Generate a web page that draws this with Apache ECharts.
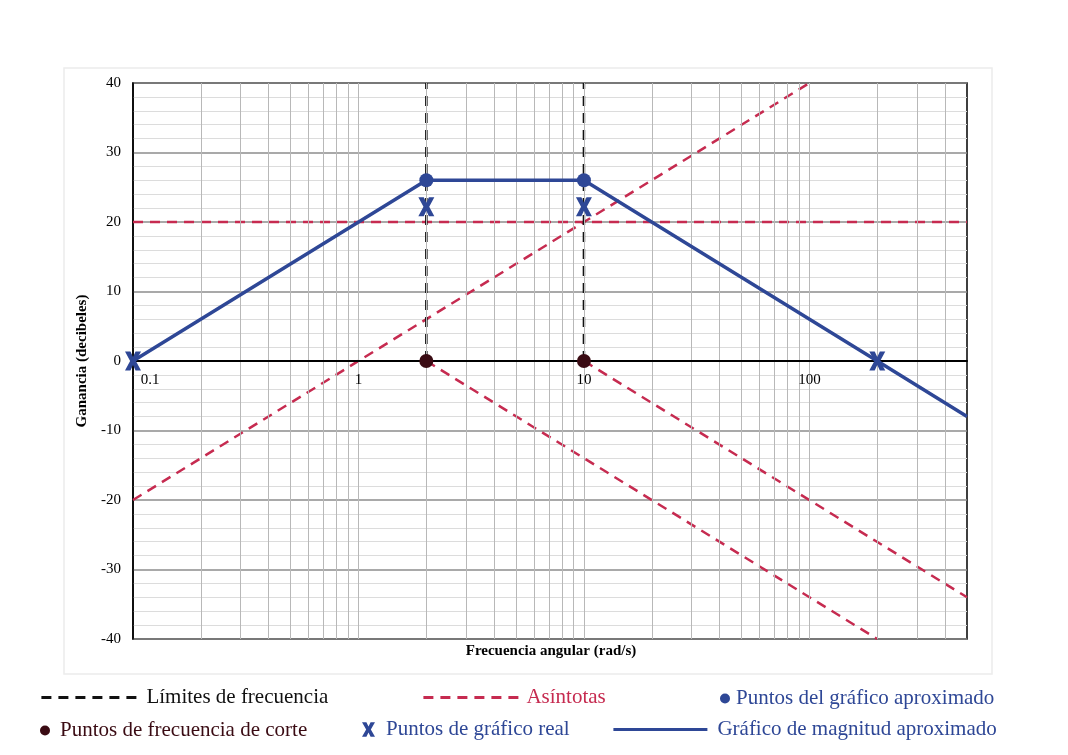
<!DOCTYPE html>
<html>
<head>
<meta charset="utf-8">
<script src="https://cdn.jsdelivr.net/npm/echarts@6/dist/echarts.min.js"></script>
<style>html,body{margin:0;padding:0;background:#fff;}#c{width:1068px;height:755px;}</style>
</head>
<body>
<div id="c"></div>
<script>
// ---- data ----
const yTicks = [-40, -30, -20, -10, 0, 10, 20, 30, 40];
const xDecades = [0.1, 1, 10, 100];
const xGridFreqs = [0.2,0.3,0.4,0.5,0.6,0.7,0.8,0.9,1,2,3,4,5,6,7,8,9,10,20,30,40,50,60,70,80,90,100,200,300,400];
const asymFlat = [[0.1, 20], [500, 20]];
const asymRise = [[0.1, -20], [100, 40]];
const asymFall2 = [[2, 0], [200, -40]];
const asymFall10 = [[10, 0], [500, -34]];
const limit2 = [[2, 0], [2, 40]];
const limit10 = [[10, 0], [10, 40]];
const approxLine = [[0.1, 0], [2, 26], [10, 26], [200, 0], [500, -8]];
const approxPoints = [[2, 26], [10, 26]];
const cutoffPoints = [[2, 0], [10, 0]];
const realPoints = [[0.1, 0], [2, 22.2], [10, 22.2], [200, 0]];

const SERIF = 'Liberation Serif';
const BLUE = '#2E4796';
const RED = '#C62B50';
const MAROON = '#3A0B13';
const XPATH = 'path://M0,0H3.4L5,3.2L6.6,0H10L6.8,5.5L10,11H6.6L5,7.8L3.4,11H0L3.2,5.5Z';
const dash = [10, 7];

const GRID = { left: 133, right: 101, top: 83, bottom: 116 };
const plotH = 755 - GRID.top - GRID.bottom;
const yMin = yTicks[0], yMax = yTicks[yTicks.length - 1];
// move the x axis (line + labels) up to the y = 0 level
const zeroOffset = -plotH * (0 - yMin) / (yMax - yMin);

const chart = echarts.init(document.getElementById('c'));

function legendItem(name, left, top, color, w, h, pad, hideSymbol) {
  const l = {
    data: [name], left: left, top: top, itemWidth: w, itemHeight: h, padding: 0,
    selectedMode: false,
    textStyle: { fontFamily: SERIF, fontSize: 21, color: color, padding: [0, 0, 0, pad] }
  };
  if (hideSymbol) { l.itemStyle = { opacity: 0 }; l.lineStyle = { width: 2.8 }; }
  return l;
}

const option = {
  backgroundColor: '#fff',
  animation: false,
  graphic: [{
    type: 'rect', shape: { x: 64, y: 68, width: 928, height: 606 }, silent: true, z: -10,
    style: { fill: 'none', stroke: '#ececec', lineWidth: 1.5 }
  }, {
    type: 'text', x: 551, y: 651, silent: true,
    style: { text: 'Frecuencia angular (rad/s)', fontFamily: SERIF, fontSize: 15, fontWeight: 'bold', fill: '#000', align: 'center', verticalAlign: 'middle' }
  }],
  grid: Object.assign({ show: true, borderColor: '#000', borderWidth: 1.5, backgroundColor: 'transparent' }, GRID),
  legend: [
    legendItem('Límites de frecuencia', 40, 687, '#111', 95, 14, 5, true),
    legendItem('Asíntotas', 422, 687, RED, 95, 14, 3, true),
    legendItem('Puntos del gráfico aproximado', 720, 688, BLUE, 10, 10, 1, false),
    legendItem('Puntos de frecuencia de corte', 40, 720, MAROON, 10, 10, 5, false),
    legendItem('Puntos de gráfico real', 362, 719, BLUE, 13, 15, 6, false),
    legendItem('Gráfico de magnitud aproximado', 612, 719, BLUE, 94, 14, 5, true)
  ],
  xAxis: {
    type: 'log', logBase: 10, min: 0.1, max: 500, position: 'bottom', offset: zeroOffset,
    axisLine: { onZero: false, lineStyle: { color: '#000', width: 2 } },
    axisTick: { show: false },
    splitLine: { show: false },
    axisLabel: {
      fontFamily: SERIF, fontSize: 15, color: '#000', margin: 12, showMaxLabel: false,
      formatter: function (v) {
        if (Math.abs(v - 0.1) < 1e-9) return '{p|0.1}';
        let s = xDecades.find(d => Math.abs(d - v) / d < 1e-6);
        return s === undefined ? '' : String(s);
      },
      rich: { p: { fontFamily: SERIF, fontSize: 15, color: '#000', padding: [0, 0, 0, 34] } }
    },
    z: 5
  },
  yAxis: {
    type: 'value', min: yMin, max: yMax, interval: 10,
    axisLine: { show: true, lineStyle: { color: '#000', width: 1.5 } }, axisTick: { show: false },
    axisLabel: { fontFamily: SERIF, fontSize: 15, color: '#000', margin: 12 },
    splitLine: { lineStyle: { color: '#8c8c8c', width: 1.5 } },
    minorTick: { show: false, splitNumber: 5 },
    minorSplitLine: { show: true, lineStyle: { color: '#dcdcdc', width: 1 } },
    name: 'Ganancia (decibeles)', nameLocation: 'middle', nameGap: 29, nameRotate: 90,
    nameTextStyle: { fontFamily: SERIF, fontSize: 15, fontWeight: 'bold', color: '#000' }
  },
  series: [
    {
      name: 'vgrid', type: 'line', data: [], silent: true, z: 1,
      markLine: {
        silent: true, symbol: 'none', label: { show: false }, animation: false,
        lineStyle: { color: '#b8b8b8', width: 1, type: 'solid' },
        data: xGridFreqs.map(v => ({ xAxis: v }))
      }
    },
    { name: 'Asíntotas', type: 'line', data: asymFlat, symbol: 'none', z: 3, lineStyle: { color: RED, width: 2.5, type: dash }, itemStyle: { color: RED } },
    { name: 'Asíntotas', type: 'line', data: asymRise, symbol: 'none', z: 3, lineStyle: { color: RED, width: 2.5, type: dash }, itemStyle: { color: RED } },
    { name: 'Asíntotas', type: 'line', data: asymFall2, symbol: 'none', z: 3, lineStyle: { color: RED, width: 2.5, type: dash }, itemStyle: { color: RED } },
    { name: 'Asíntotas', type: 'line', data: asymFall10, symbol: 'none', z: 3, lineStyle: { color: RED, width: 2.5, type: dash }, itemStyle: { color: RED } },
    { name: 'Límites de frecuencia', type: 'line', data: limit2, symbol: 'none', z: 4, lineStyle: { color: '#111', width: 2.5, type: dash }, itemStyle: { color: '#111' } },
    { name: 'Límites de frecuencia', type: 'line', data: limit10, symbol: 'none', z: 4, lineStyle: { color: '#111', width: 2.5, type: dash }, itemStyle: { color: '#111' } },
    { name: 'Gráfico de magnitud aproximado', type: 'line', data: approxLine, symbol: 'none', z: 6, clip: false, lineStyle: { color: BLUE, width: 3.5 }, itemStyle: { color: BLUE } },
    { name: 'Puntos del gráfico aproximado', type: 'scatter', data: approxPoints, symbol: 'circle', symbolSize: 14, z: 7, itemStyle: { color: BLUE, opacity: 1 } },
    { name: 'Puntos de frecuencia de corte', type: 'scatter', data: cutoffPoints, symbol: 'circle', symbolSize: 14, z: 7, itemStyle: { color: MAROON, opacity: 1 } },
    { name: 'Puntos de gráfico real', type: 'scatter', data: realPoints, symbol: XPATH, symbolSize: [16, 19], symbolKeepAspect: false, clip: false, z: 8, itemStyle: { color: BLUE, opacity: 1 } }
  ]
};
chart.setOption(option);
</script>
</body>
</html>
